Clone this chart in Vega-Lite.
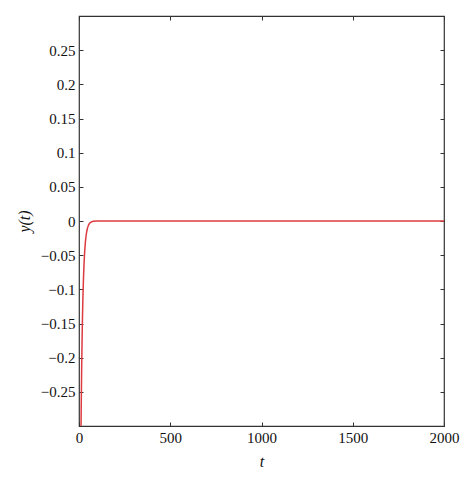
{
  "$schema": "https://vega.github.io/schema/vega-lite/v6.json",
  "width": 365,
  "height": 410,
  "autosize": "none",
  "padding": {"left": 79, "top": 16, "right": 30, "bottom": 59},
  "data": {
    "values": [
      {"t": 0, "y": -0.857},
      {"t": 3, "y": -0.645},
      {"t": 6, "y": -0.485},
      {"t": 9, "y": -0.365},
      {"t": 12, "y": -0.275},
      {"t": 15, "y": -0.207},
      {"t": 18, "y": -0.156},
      {"t": 21, "y": -0.117},
      {"t": 24, "y": -0.088},
      {"t": 27, "y": -0.066},
      {"t": 30, "y": -0.05},
      {"t": 35, "y": -0.031},
      {"t": 40, "y": -0.0194},
      {"t": 45, "y": -0.0121},
      {"t": 50, "y": -0.0075},
      {"t": 60, "y": -0.0029},
      {"t": 70, "y": -0.0011},
      {"t": 80, "y": -0.0004},
      {"t": 100, "y": 0},
      {"t": 500, "y": 0},
      {"t": 1000, "y": 0},
      {"t": 1500, "y": 0},
      {"t": 2000, "y": 0}
    ]
  },
  "layer": [
    {
      "mark": {"type": "line", "color": "#de3b40", "strokeWidth": 1.5, "clip": true, "interpolate": "monotone"},
      "encoding": {
        "x": {
          "field": "t", "type": "quantitative",
          "scale": {"domain": [0, 2000], "nice": false},
          "axis": {"orient": "bottom", "values": [0, 500, 1000, 1500, 2000], "format": "d", "title": "t", "titlePadding": 8}
        },
        "y": {
          "field": "y", "type": "quantitative",
          "scale": {"domain": [-0.3, 0.3], "nice": false, "zero": false},
          "axis": {"orient": "left", "values": [-0.25, -0.2, -0.15, -0.1, -0.05, 0, 0.05, 0.1, 0.15, 0.2, 0.25], "format": ".2~f", "title": "y(t)", "titlePadding": 8}
        }
      }
    },
    {
      "mark": {"type": "line", "opacity": 0},
      "encoding": {
        "x": {
          "field": "t", "type": "quantitative",
          "axis": {"orient": "top", "values": [0, 500, 1000, 1500, 2000], "labels": false, "title": null}
        },
        "y": {
          "field": "y", "type": "quantitative",
          "axis": {"orient": "right", "values": [-0.25, -0.2, -0.15, -0.1, -0.05, 0, 0.05, 0.1, 0.15, 0.2, 0.25], "labels": false, "title": null}
        }
      }
    }
  ],
  "resolve": {"axis": {"x": "independent", "y": "independent"}},
  "config": {
    "view": {"stroke": "#333333", "strokeWidth": 1.2},
    "axis": {
      "domain": false,
      "grid": false,
      "tickSize": -4,
      "tickColor": "#333333",
      "labelPadding": 8,
      "labelFlush": false,
      "labelFont": "Liberation Serif",
      "labelFontSize": 15,
      "labelColor": "#111111",
      "titleFont": "Liberation Serif",
      "titleFontSize": 16,
      "titleFontWeight": "normal",
      "titleFontStyle": "italic",
      "titleColor": "#111111"
    }
  }
}
